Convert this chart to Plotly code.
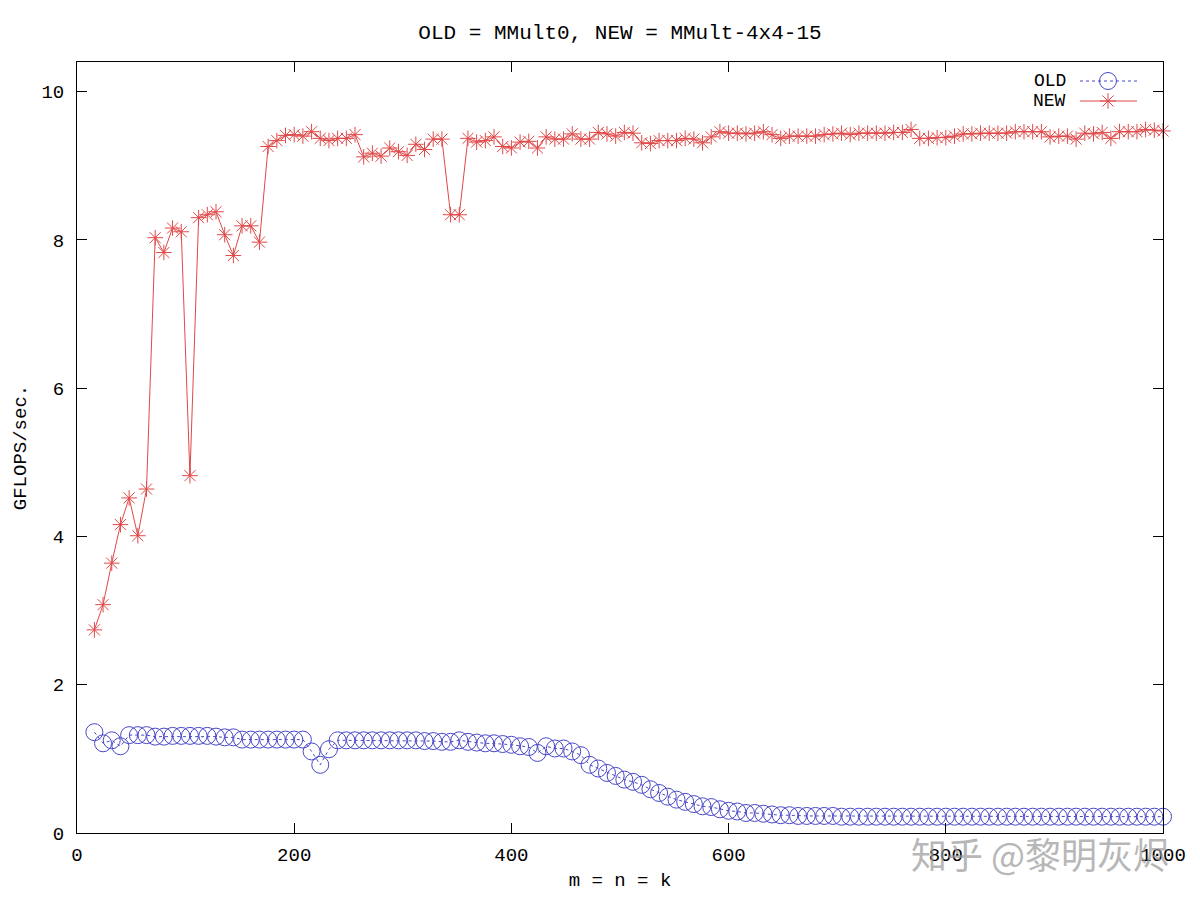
import plotly.graph_objects as go

# ---- data ----
sizes = list(range(16, 1001, 8))  # m = n = k

old_gflops = [
    1.36, 1.21, 1.25, 1.17, 1.32, 1.32, 1.32, 1.30, 1.30, 1.31, 1.31, 1.31, 1.31, 1.31,
    1.30, 1.29, 1.29, 1.26, 1.26, 1.26, 1.26, 1.26, 1.26, 1.26, 1.26, 1.10, 0.92, 1.13,
    1.25, 1.25, 1.25, 1.25, 1.25, 1.25, 1.25, 1.25, 1.25, 1.25, 1.24, 1.24,
    1.23, 1.23, 1.25, 1.23, 1.22, 1.21, 1.21, 1.20, 1.19, 1.17, 1.16, 1.08, 1.17, 1.14,
    1.14, 1.10, 1.05, 0.92, 0.87, 0.81, 0.77, 0.72, 0.69, 0.65, 0.59, 0.54, 0.49, 0.45,
    0.42, 0.39, 0.36, 0.35, 0.32, 0.30, 0.29, 0.27, 0.27, 0.26, 0.25, 0.24, 0.24, 0.23,
    0.23, 0.23, 0.23, 0.23,
    0.22, 0.22, 0.22, 0.22, 0.22, 0.22, 0.22, 0.22, 0.22, 0.22, 0.22, 0.22, 0.22,
    0.22, 0.22, 0.22, 0.22, 0.22, 0.22, 0.22, 0.22, 0.22, 0.22, 0.22, 0.22, 0.22,
    0.22, 0.22, 0.22, 0.22, 0.22, 0.22, 0.22, 0.22, 0.22, 0.22, 0.22, 0.22,
]

new_gflops = [
    2.74, 3.08, 3.64, 4.16, 4.52, 4.01, 4.64, 8.03, 7.83, 8.16, 8.11, 4.82, 8.30, 8.34,
    8.38, 8.07, 7.79, 8.19, 8.19, 7.97, 9.26, 9.34, 9.41, 9.42, 9.40, 9.46, 9.37, 9.34,
    9.37, 9.37, 9.42, 9.12, 9.17, 9.13, 9.24, 9.19, 9.14, 9.29, 9.22, 9.36, 9.36, 8.34,
    8.34, 9.37, 9.32, 9.34, 9.39, 9.26, 9.24, 9.32, 9.33, 9.24, 9.39, 9.36, 9.36, 9.43,
    9.36, 9.36, 9.45, 9.43, 9.40, 9.45, 9.44, 9.31, 9.30, 9.34, 9.34, 9.34, 9.37, 9.36,
    9.31, 9.39, 9.46, 9.44, 9.44, 9.43, 9.44, 9.46, 9.42, 9.37, 9.40, 9.40, 9.40, 9.40,
    9.42, 9.43, 9.44, 9.42, 9.44, 9.44, 9.44, 9.44, 9.45, 9.45, 9.49, 9.37, 9.37, 9.38,
    9.38, 9.40, 9.43, 9.43, 9.44, 9.44, 9.44, 9.44, 9.46, 9.46, 9.46, 9.46, 9.39, 9.40,
    9.40, 9.36, 9.44, 9.43, 9.45, 9.37, 9.46, 9.46, 9.46, 9.49, 9.48, 9.47,
]

x_ticks = [0, 200, 400, 600, 800, 1000]
y_ticks = [0, 2, 4, 6, 8, 10]
series_names = ["OLD", "NEW"]
title_text = "OLD = MMult0, NEW = MMult-4x4-15"
x_title = "m = n = k"
y_title = "GFLOPS/sec."
watermark = "知乎 @黎明灰烬"

# ---- style ----
FONT = "Liberation Mono, Courier New, monospace"
BLUE = "#4848c8"
RED = "#e04848"
W, H = 1184, 884  # page body adds an 8px margin on each side

fig = go.Figure()

fig.add_trace(go.Scatter(
    x=sizes, y=old_gflops, mode="lines+markers", name=series_names[0],
    line=dict(color=BLUE, width=1, dash="dot"),
    marker=dict(symbol="circle-open", size=17, color=BLUE, line=dict(width=1, color=BLUE)),
    cliponaxis=False, showlegend=False,
))
fig.add_trace(go.Scatter(
    x=sizes, y=new_gflops, mode="lines+markers", name=series_names[1],
    line=dict(color=RED, width=1),
    marker=dict(symbol="asterisk-open", size=13, color=RED, line=dict(width=1, color=RED)),
    cliponaxis=False, showlegend=False,
))

# ---- gnuplot-style key (text left, sample right), drawn on a pixel-space overlay axis ----
key_rows = [(81, BLUE, "dot", "circle-open", 17), (101, RED, "solid", "asterisk-open", 13)]
for (ky, col, dash, sym, sz), name in zip(key_rows, series_names):
    fig.add_trace(go.Scatter(
        x=[1080, 1108, 1137], y=[ky, ky, ky], xaxis="x2", yaxis="y2",
        mode="lines", line=dict(color=col, width=1, dash=dash),
        showlegend=False, hoverinfo="skip",
    ))
    fig.add_trace(go.Scatter(
        x=[1108], y=[ky], xaxis="x2", yaxis="y2", mode="markers",
        marker=dict(symbol=sym, size=sz, color=col, line=dict(width=1, color=col)),
        showlegend=False, hoverinfo="skip",
    ))
    fig.add_annotation(
        x=1068, y=ky, xref="x2", yref="y2", text=name, showarrow=False,
        xanchor="right", yanchor="middle", font=dict(family=FONT, size=18, color="black"),
    )

axis_common = dict(
    showline=True, linecolor="black", linewidth=1, mirror="ticks",
    ticks="inside", ticklen=10, tickcolor="black", tickwidth=1,
    showgrid=False, zeroline=False, automargin=False,
    tickfont=dict(family=FONT, size=19, color="black"),
)

fig.update_layout(
    width=W, height=H,
    margin=dict(l=69, r=29, t=54, b=59, autoexpand=False),
    paper_bgcolor="white", plot_bgcolor="white",
    title=dict(
        text=title_text, x=0.5, xref="paper", xanchor="center",
        y=1 - 24 / H, yref="container", yanchor="middle",
        font=dict(family=FONT, size=21, color="black"),
    ),
    xaxis=dict(
        range=[0, 1000], tickvals=x_ticks, ticklabelstandoff=4,
        title=dict(text=x_title, font=dict(family=FONT, size=19, color="black"), standoff=16),
        **axis_common,
    ),
    yaxis=dict(
        range=[0, 10.4], tickvals=y_ticks, ticklabelstandoff=8,
        title=dict(text=y_title, font=dict(family=FONT, size=19, color="black"), standoff=9),
        **axis_common,
    ),
    xaxis2=dict(range=[77, 1163], overlaying="x", visible=False, fixedrange=True),
    yaxis2=dict(range=[833, 62], overlaying="y", visible=False, fixedrange=True),
    showlegend=False,
)

fig.add_annotation(
    x=(1040 - 77) / 1086, y=(833 - 853) / 771, xref="paper", yref="paper",
    text=watermark, showarrow=False,
    xanchor="center", yanchor="middle", opacity=0.7,
    font=dict(family="Noto Sans CJK SC", size=36, color="#9a9a9a"),
)

fig.write_html("out.html")
